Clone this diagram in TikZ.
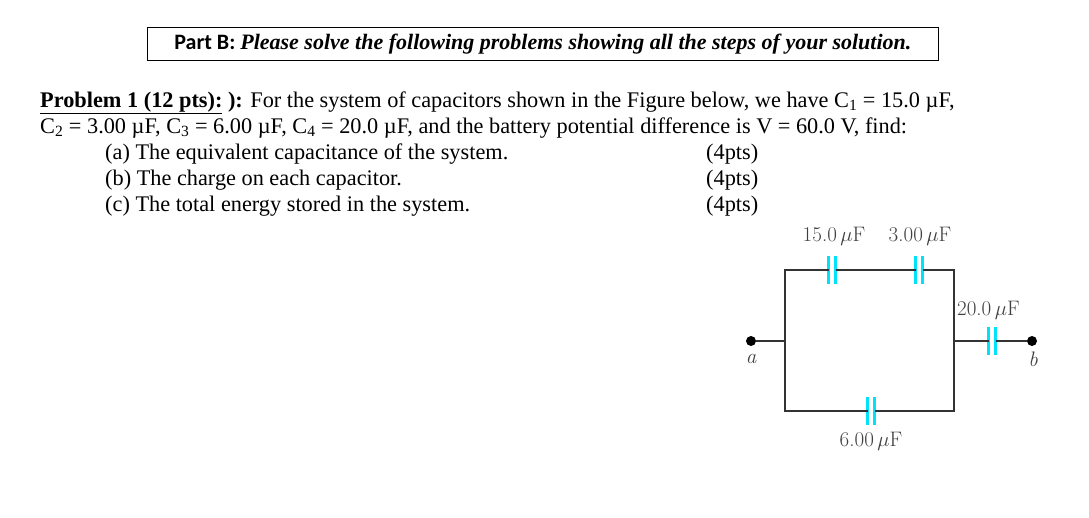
\documentclass[tikz,border=0pt]{standalone}
\usepackage{fontspec}
\setmainfont{Liberation Serif}
\newfontfamily\carlitofont{Carlito}
\newfontfamily\lmfont{Latin Modern Roman}
\definecolor{platecol}{RGB}{0,225,250}
\begin{document}
\begin{tikzpicture}[x=1pt,y=-1pt,
  txt/.style={anchor=base west,inner sep=0pt,font=\fontsize{22.3}{24}\selectfont},
  lab/.style={inner sep=0pt,text=black!75,font=\lmfont\fontsize{21}{23}\selectfont},
  wire/.style={draw=black!80,line width=1.3pt},
  plate/.style={draw=platecol,line width=2.2pt},
  dot/.style={circle,fill=black,inner sep=0pt,minimum size=10pt}]
\useasboundingbox (0,0) rectangle (1089,517);
\node[draw,line width=0.8pt,minimum width=791pt,minimum height=33pt,anchor=north west,inner sep=0pt] (hb) at (147,27) {};
\node[anchor=center,inner sep=0pt] (ht) at (hb.center) {\carlitofont\bfseries\fontsize{22}{24}\selectfont Part B: \rmfamily\itshape Please solve the following problems showing all the steps of your solution.};
\node[txt] (l1) at (40,107) {\textbf{\underline{Problem 1 (12 pts):} ):} For the system of capacitors shown in the Figure below, we have C\textsubscript{1} = 15.0 µF,};
\node[txt] (l2) at (40,133) {C\textsubscript{2} = 3.00 µF, C\textsubscript{3} = 6.00 µF, C\textsubscript{4} = 20.0 µF, and the battery potential difference is V = 60.0 V, find:};
\node[txt] (l3) at (105,159) {(a) The equivalent capacitance of the system.};
\node[txt] (l4) at (105,185) {(b) The charge on each capacitor.};
\node[txt] (l5) at (105,211) {(c) The total energy stored in the system.};
\node[txt] (p3) at (706,159) {(4pts)};
\node[txt] (p4) at (706,185) {(4pts)};
\node[txt] (p5) at (706,211) {(4pts)};
% circuit
\coordinate (tl) at (785,270); \coordinate (tr) at (954,270);
\coordinate (bl) at (785,411); \coordinate (br) at (954,411);
\coordinate (ml) at (785,341); \coordinate (mr) at (954,341);
\node[dot] (a) at (751,341) {};
\node[dot] (b) at (1032,341) {};
\foreach \n/\x/\y in {c1/832/270,c2/919/270,c3/871/411,c4/992/341}{
  \coordinate (\n l) at (\x-3.5,\y); \coordinate (\n r) at (\x+3.5,\y);
  \draw[plate] (\x-3.5,\y-14) -- (\x-3.5,\y+14);
  \draw[plate] (\x+3.5,\y-14) -- (\x+3.5,\y+14);
}
\draw[wire] (c1l) -- (tl) -- (bl) -- (c3l);
\draw[wire] (c3r) -- (br) -- (tr) -- (c2r);
\draw[wire] (c1r) -- (c2l);
\draw[wire] (a) -- (ml);
\draw[wire] (mr) -- (c4l);
\draw[wire] (c4r) -- (b);
\node[lab] (t1) at (834,236) {15.0\,$\mu$F};
\node[lab] (t2) at (920,236) {3.00\,$\mu$F};
\node[lab,anchor=west] (t4) at (957,310) {20.0\,$\mu$F};
\node[lab] (t3) at (871,441) {6.00\,$\mu$F};
\node[lab,font=\lmfont\itshape\fontsize{21}{23}\selectfont] (la) at (751,359) {a};
\node[lab,font=\lmfont\itshape\fontsize{21}{23}\selectfont] (lb) at (1033,359) {b};
\end{tikzpicture}
\end{document}
